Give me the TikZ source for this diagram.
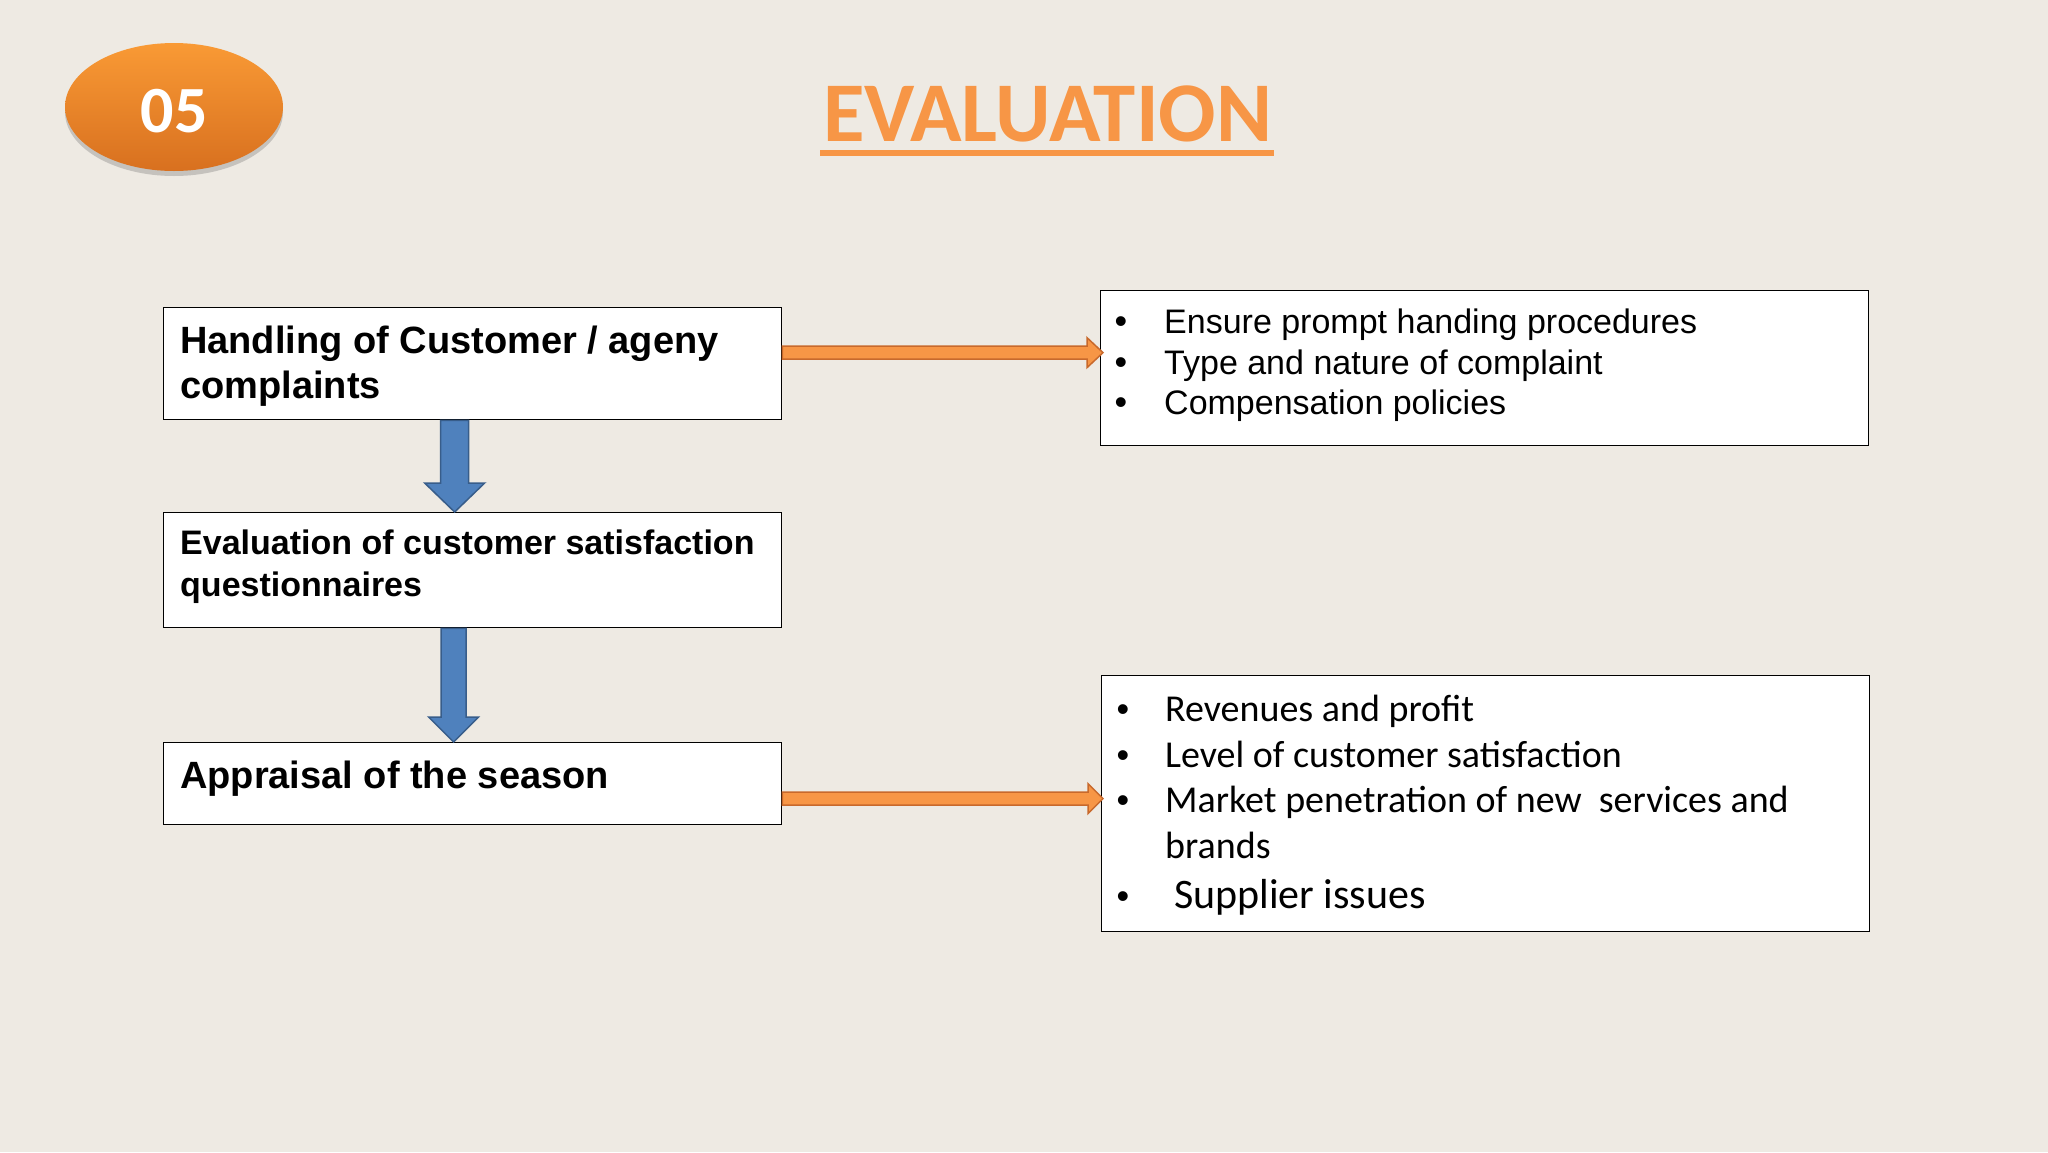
\documentclass[tikz,border=0pt]{standalone}
\usepackage{fontspec}
\setmainfont{Liberation Sans}
\newfontfamily\calibri{Carlito}
\usetikzlibrary{shapes.geometric,shadows,calc}
\definecolor{bgc}{HTML}{EEEAE3}
\definecolor{orfill}{HTML}{F79646}
\definecolor{ordraw}{HTML}{C8692C}
\definecolor{bluefill}{HTML}{4F81BD}
\definecolor{bluedraw}{HTML}{385D8A}
\definecolor{badgetop}{HTML}{F99A35}
\definecolor{badgebot}{HTML}{D8701F}
\tikzset{
  box/.style={draw=black, line width=1.3pt, fill=white, anchor=north west, inner sep=0pt},
  boldline/.style={anchor=base west, inner sep=0pt, font=\bfseries\fontsize{38}{46}\selectfont},
  boldsmall/.style={anchor=base west, inner sep=0pt, font=\bfseries\fontsize{34}{42}\selectfont},
  arialitem/.style={anchor=base west, inner sep=0pt, font=\fontsize{34}{40}\selectfont},
  calitem/.style={anchor=base west, inner sep=0pt, font=\calibri\fontsize{38}{46}\selectfont},
  bul/.style={anchor=base, inner sep=0pt, font=\fontsize{36}{40}\selectfont},
  oarrow/.style={fill=orfill, draw=ordraw, line width=1.5pt, line join=miter},
  barrow/.style={fill=bluefill, draw=bluedraw, line width=1.5pt, line join=miter},
}
\begin{document}
\begin{tikzpicture}[x=1pt,y=-1pt]
\fill[bgc] (0,0) rectangle (2048,1152);
\useasboundingbox (0,0) rectangle (2048,1152);

% badge
\node[ellipse, minimum width=218pt, minimum height=128pt, inner sep=0pt,
      top color=badgetop, bottom color=badgebot, draw=none,
      drop shadow={shadow xshift=0pt, shadow yshift=-5pt, opacity=0.25, fill=black!70}] (badge) at (174,107) {};
\node[anchor=base, inner sep=0pt, text=white, font=\calibri\bfseries\fontsize{66}{66}\selectfont] (num) at (174,132) {05};

% title
\node[anchor=base west, inner sep=0pt, text=orfill, font=\calibri\bfseries\fontsize{85}{85}\selectfont] (title) at (823,141) {EVALUATION};
\draw[orfill, line width=5.5pt] (title.base west |- 0,153) ++(-3,0) coordinate (ul1) -- ($(title.base east |- 0,153)+(2,0)$) coordinate (ul2);

% left boxes
\node[box, minimum width=618pt, minimum height=112pt] (b1) at (163,307) {};
\node[box, minimum width=618pt, minimum height=115pt] (b2) at (163,512) {};
\node[box, minimum width=618pt, minimum height=82pt] (b3) at (163,742) {};

\node[boldline] (t1a) at (180,353) {Handling of Customer / ageny};
\node[boldline] (t1b) at (180,398) {complaints};
\node[boldsmall] (t2a) at (180,554) {Evaluation of customer satisfaction};
\node[boldsmall] (t2b) at (180,596) {questionnaires};
\node[boldline] (t3a) at (180,788) {Appraisal of the season};

% right boxes
\node[box, minimum width=768pt, minimum height=155pt] (r1) at (1100,290) {};
\node[box, minimum width=768pt, minimum height=256pt] (r2) at (1101,675) {};

\node[bul] (u1a) at (1121,333) {•};
\node[bul] (u1b) at (1121,374) {•};
\node[bul] (u1c) at (1121,414) {•};
\node[arialitem] (s1a) at (1164,333) {Ensure prompt handing procedures};
\node[arialitem] (s1b) at (1164,374) {Type and nature of complaint};
\node[arialitem] (s1c) at (1164,414) {Compensation policies};

\node[bul] (u2a) at (1123,721) {•};
\node[bul] (u2b) at (1123,767) {•};
\node[bul] (u2c) at (1123,812) {•};
\node[bul] (u2d) at (1123,908) {•};
\node[calitem] (s2a) at (1165,721) {Revenues and profit};
\node[calitem] (s2b) at (1165,767) {Level of customer satisfaction};
\node[calitem] (s2c) at (1165,812) {Market penetration of new\ \ services and};
\node[calitem] (s2d) at (1165,858) {brands};
\node[calitem, font=\calibri\fontsize{42}{48}\selectfont] (s2e) at (1174,908) {Supplier issues};

% orange arrows
\draw[oarrow] let \p1=([yshift=11pt]b1.east), \p2=(r1.west) in
  (\x1,{\y1+6.5pt}) -- ({\x2-13pt},{\y1+6.5pt}) -- ({\x2-13pt},{\y1+15pt}) -- ({\x2+3pt},\y1)
  -- ({\x2-13pt},{\y1-15pt}) -- ({\x2-13pt},{\y1-6.5pt}) -- (\x1,{\y1-6.5pt}) -- cycle;
\draw[oarrow] let \p1=([yshift=-15pt]b3.east), \p2=(r2.west) in
  (\x1,{\y1+6.5pt}) -- ({\x2-13pt},{\y1+6.5pt}) -- ({\x2-13pt},{\y1+15pt}) -- ({\x2+2pt},\y1)
  -- ({\x2-13pt},{\y1-15pt}) -- ({\x2-13pt},{\y1-6.5pt}) -- (\x1,{\y1-6.5pt}) -- cycle;

% blue arrows
\draw[barrow] let \p1=([xshift=-18pt]b1.south), \p2=(b2.north) in
  ({\x1-14pt},\y1) -- ({\x1-14pt},{\y2+29pt}) -- ({\x1-30pt},{\y2+29pt}) -- (\x1,\y2)
  -- ({\x1+30pt},{\y2+29pt}) -- ({\x1+14pt},{\y2+29pt}) -- ({\x1+14pt},\y1) -- cycle;
\draw[barrow] let \p1=([xshift=-19pt]b2.south), \p2=(b3.north) in
  ({\x1-12.5pt},\y1) -- ({\x1-12.5pt},{\y2+25pt}) -- ({\x1-25pt},{\y2+25pt}) -- (\x1,\y2)
  -- ({\x1+25pt},{\y2+25pt}) -- ({\x1+12.5pt},{\y2+25pt}) -- ({\x1+12.5pt},\y1) -- cycle;
\end{tikzpicture}
\end{document}
